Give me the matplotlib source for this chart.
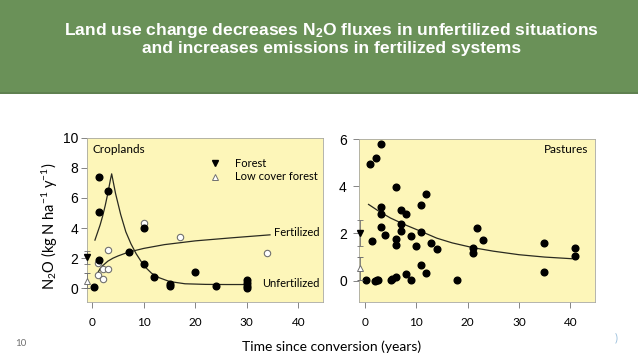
import matplotlib
matplotlib.use("Agg")
import matplotlib.pyplot as plt
from matplotlib.patches import Rectangle

plt.rcParams['font.family'] = ['Lato', 'DejaVu Sans']
plt.rcParams['mathtext.fontset'] = 'custom'
plt.rcParams['mathtext.rm'] = 'Lato'
plt.rcParams['mathtext.it'] = 'Lato:italic'
plt.rcParams['mathtext.bf'] = 'Liberation Sans:bold'

# ---- Croplands ----
crop_unfert_x = [0.4, 1.2, 1.2, 3.1, 1.2, 7.1, 10, 10, 12, 15, 15, 19.9, 24, 30, 30, 30, 30]
crop_unfert_y = [0.1, 7.37, 5.05, 6.46, 1.88, 2.43, 3.98, 1.64, 0.73, 0.27, 0.15, 1.08, 0.13, 0.58, 0.38, 0.18, 0.02]
crop_fert_x = [1.1, 1.1, 2.1, 2.1, 3.1, 3.1, 10.1, 17, 33.9]
crop_fert_y = [0.86, 1.7, 1.26, 0.62, 1.3, 2.54, 4.31, 3.43, 2.37]
unfert_curve_x = [0.5, 1.0, 1.5, 2.0, 2.5, 3.0, 3.5, 3.75, 4.5, 5.5, 6.5, 7.5, 8.5, 10, 11.5, 13, 15, 18, 22, 26, 30]
unfert_curve_y = [3.2, 3.7, 4.2, 4.8, 5.5, 6.3, 7.2, 7.6, 6.3, 4.9, 3.75, 2.95, 2.3, 1.5, 1.0, 0.7, 0.45, 0.3, 0.26, 0.25, 0.25]
fert_curve_x = [1, 1.5, 2, 3, 4, 5, 7, 10, 14, 20, 27, 34.5]
fert_curve_y = [1.0, 1.3, 1.5, 1.8, 2.0, 2.15, 2.4, 2.65, 2.9, 3.15, 3.35, 3.55]
crop_forest = (2.05, 0.45)      # mean, half-range
crop_lowcover = (0.5, 0.5)

# ---- Pastures ----
past_x = [0.3, 1.0, 1.3, 2.1, 2.0, 2.3, 2.6, 3.06, 3.06, 3.06, 3.06, 4.0, 5.0, 5.3,
          6.0, 6.0, 6.0, 6.0, 7.0, 7.0, 7.0, 8.0, 8.0, 8.9, 8.9, 10.0, 10.9, 10.9, 10.9,
          11.9, 11.9, 12.9, 14.0, 17.9, 21.0, 21.0, 21.9, 23.0, 34.9, 34.9, 40.9, 40.9]
past_y = [0.03, 4.93, 1.69, 5.18, 0.0, 0.01, 0.02, 5.78, 3.13, 2.81, 2.29, 1.93, 0.03, 0.07,
          3.98, 1.77, 1.51, 0.14, 2.99, 2.39, 2.1, 2.81, 0.27, 1.89, 0.01, 1.48, 3.2, 2.08, 0.65,
          3.67, 0.31, 1.6, 1.34, 0.01, 1.37, 1.16, 2.22, 1.71, 1.58, 0.38, 1.37, 1.06]
past_curve_x = [0.7, 3, 5, 8, 11, 14, 17, 21, 25, 30, 35, 40.3]
past_curve_y = [3.23, 2.9, 2.65, 2.35, 2.08, 1.8, 1.6, 1.4, 1.25, 1.1, 1.0, 0.93]
past_forest = (2.0, 0.55)
past_lowcover = (0.52, 0.5)

yellow = '#fdf6b9'
green = '#6a9158'
spine_col = '#a8a8a0'

fig = plt.figure(figsize=(6.38, 3.59), dpi=100)
fig.patches.append(Rectangle((0, 1 - 92 / 359), 1, 92 / 359, transform=fig.transFigure,
                             facecolor=green, edgecolor='none', zorder=0))
fig.patches.append(Rectangle((0, 1 - 93.5 / 359), 1, 1.5 / 359, transform=fig.transFigure,
                             facecolor='#5f8050', edgecolor='none', zorder=0))
fig.text(0.519, 1 - 30 / 359, r'Land use change decreases N$_\mathbf{2}$O fluxes in unfertilized situations',
         color='white', fontsize=12.6, fontweight='bold', family='Liberation Sans', ha='center', va='center')
fig.text(0.519, 1 - 49 / 359, 'and increases emissions in fertilized systems',
         color='white', fontsize=12.6, fontweight='bold', family='Liberation Sans', ha='center', va='center')

ax1 = fig.add_axes([86.7 / 638, 1 - 301.7 / 359, 236.3 / 638, 164 / 359])
ax2 = fig.add_axes([359.3 / 638, 1 - 301.7 / 359, 235.7 / 638, 162.7 / 359])


def style(ax, ylim, yticks, ypad):
    ax.set_facecolor(yellow)
    ax.set_xlim(-1.1, 44.8)
    ax.set_ylim(*ylim)
    ax.set_xticks([0, 10, 20, 30, 40])
    ax.set_yticks(yticks)
    for s in ax.spines.values():
        s.set_color(spine_col)
        s.set_linewidth(0.6)
    ax.tick_params(axis='both', direction='out', length=4, width=0.6, color='#707070')
    ax.tick_params(axis='x', pad=7, labelsize=8.5)
    ax.tick_params(axis='y', pad=ypad, labelsize=10)
    for lab in ax.get_yticklabels():
        lab.set_family('Liberation Sans')


style(ax1, (-0.89, 10), [0, 2, 4, 6, 8, 10], 2)
style(ax2, (-0.89, 6), [0, 2, 4, 6], 5)

# croplands
ax1.plot(unfert_curve_x, unfert_curve_y, color='#2a2a20', lw=0.9, zorder=2)
ax1.plot(fert_curve_x, fert_curve_y, color='#2a2a20', lw=0.9, zorder=2)
ax1.plot(crop_fert_x, crop_fert_y, 'o', ms=4.6, mfc='white', mec='#707070', mew=0.8, zorder=3)
ax1.plot(crop_unfert_x, crop_unfert_y, 'o', ms=4.8, color='black', zorder=4)
ax1.errorbar([-1.0], [crop_forest[0]], yerr=[crop_forest[1]], fmt='v', ms=4.2, color='black',
             ecolor='#707070', elinewidth=0.6, capsize=2, capthick=0.6, zorder=5, clip_on=False)
ax1.errorbar([-1.0], [crop_lowcover[0]], yerr=[crop_lowcover[1]], fmt='^', ms=4.2, mfc='white',
             mec='#707070', mew=0.7, ecolor='#707070', elinewidth=0.6, capsize=2, capthick=0.6,
             zorder=5, clip_on=False)
ax1.text(0.0, 9.2, 'Croplands', fontsize=8.5, ha='left', va='center')
ax1.plot([23.8], [8.3], 'v', ms=3.8, color='black')
ax1.plot([23.8], [7.4], '^', ms=3.8, mfc='white', mec='#707070', mew=0.7)
ax1.text(27.8, 8.3, 'Forest', fontsize=8, ha='left', va='center')
ax1.text(27.8, 7.4, 'Low cover forest', fontsize=8, ha='left', va='center')
ax1.text(44.2, 3.7, 'Fertilized', fontsize=8, ha='right', va='center')
ax1.text(44.2, 0.3, 'Unfertilized', fontsize=8, ha='right', va='center')

# pastures
ax2.plot(past_curve_x, past_curve_y, color='#2a2a20', lw=0.9, zorder=2)
ax2.plot(past_x, past_y, 'o', ms=4.8, color='black', zorder=4)
ax2.errorbar([-1.0], [past_forest[0]], yerr=[past_forest[1]], fmt='v', ms=4.2, color='black',
             ecolor='#707070', elinewidth=0.6, capsize=2, capthick=0.6, zorder=5, clip_on=False)
ax2.errorbar([-1.0], [past_lowcover[0]], yerr=[past_lowcover[1]], fmt='^', ms=4.2, mfc='white',
             mec='#707070', mew=0.7, ecolor='#707070', elinewidth=0.6, capsize=2, capthick=0.6,
             zorder=5, clip_on=False)
ax2.text(43.5, 5.55, 'Pastures', fontsize=8.5, ha='right', va='center')

fig.text(50 / 638, 1 - 226 / 359, r'N$_2$O (kg N ha$^{-1}$ y$^{-1}$)', rotation=90,
         fontsize=10.5, ha='center', va='center')
fig.text(332 / 638, 1 - 347 / 359, 'Time since conversion (years)', fontsize=10, ha='center', va='center')
fig.text(21 / 638, 1 - 343 / 359, '10', fontsize=7, color='#707070', ha='center', va='center')
fig.text(616 / 638, 1 - 338 / 359, ')', fontsize=8, color='#9cc0dc', ha='center', va='center')

fig.savefig('out.png', dpi=100)
